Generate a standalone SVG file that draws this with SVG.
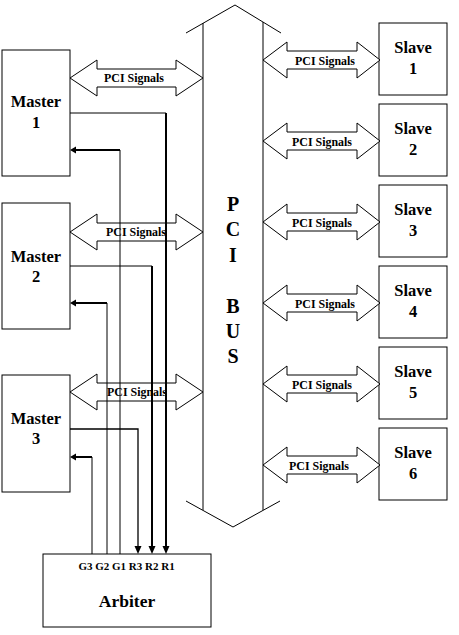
<svg xmlns="http://www.w3.org/2000/svg" width="459" height="635" viewBox="0 0 459 635">
<style>
.box{fill:#fff;stroke:#000;stroke-width:1}
.bus{fill:none;stroke:#000;stroke-width:1}
.dbl{fill:#fff;stroke:#000;stroke-width:1}
.lbl{font-weight:bold;fill:#000;text-anchor:middle}
.big{font-size:16.5px}
.sig{font-size:12.5px}
.pin{font-size:11px}
.busl{font-size:20px}
.thin{fill:none;stroke:#000;stroke-width:1}
.thick{fill:none;stroke:#000;stroke-width:2}
</style>
<defs>
<marker id="ah" markerUnits="userSpaceOnUse" markerWidth="10" markerHeight="10" viewBox="0 -5 10 10" refX="0" refY="0" orient="auto">
<path d="M0,-3.5 L8,0 L0,3.5 z" fill="#000"/>
</marker>
<marker id="ahs" markerUnits="userSpaceOnUse" markerWidth="10" markerHeight="10" viewBox="0 -5 10 10" refX="0" refY="0" orient="auto">
<path d="M0,-3.5 L6,0 L0,3.5 z" fill="#000"/>
</marker>
</defs>
<rect width="459" height="635" fill="#fff"/>
<g font-family="'Liberation Serif', 'Times New Roman', serif">
<g id="pci-bus">
<polyline class="bus" points="186,33 235,5 281,33"/>
<line class="bus" x1="203" y1="23" x2="203" y2="510"/>
<line class="bus" x1="263" y1="22" x2="263" y2="510"/>
<polyline class="bus" points="186,501 233,527 280,501"/>
<text class="lbl busl" x="233" y="211">P</text>
<text class="lbl busl" x="233" y="236">C</text>
<text class="lbl busl" x="233" y="262">I</text>
<text class="lbl busl" x="233" y="313">B</text>
<text class="lbl busl" x="233" y="338">U</text>
<text class="lbl busl" x="233" y="363">S</text>
</g>

<g id="master1">
<rect class="box" x="2" y="50" width="68" height="126"/>
<text class="lbl big" x="36" y="107">Master</text>
<text class="lbl big" x="36" y="128">1</text>
</g>
<g id="master2">
<rect class="box" x="2" y="203" width="68" height="126"/>
<text class="lbl big" x="36" y="262">Master</text>
<text class="lbl big" x="36" y="282">2</text>
</g>
<g id="master3">
<rect class="box" x="2" y="375" width="68" height="117"/>
<text class="lbl big" x="36" y="424">Master</text>
<text class="lbl big" x="36" y="444">3</text>
</g>

<g id="slave1">
<rect class="box" x="379" y="23" width="68" height="72"/>
<text class="lbl big" x="413" y="53">Slave</text>
<text class="lbl big" x="413" y="74">1</text>
</g>
<g id="slave2">
<rect class="box" x="379" y="104" width="68" height="72"/>
<text class="lbl big" x="413" y="134">Slave</text>
<text class="lbl big" x="413" y="155">2</text>
</g>
<g id="slave3">
<rect class="box" x="379" y="185" width="68" height="72"/>
<text class="lbl big" x="413" y="215">Slave</text>
<text class="lbl big" x="413" y="236">3</text>
</g>
<g id="slave4">
<rect class="box" x="379" y="266" width="68" height="72"/>
<text class="lbl big" x="413" y="296">Slave</text>
<text class="lbl big" x="413" y="317">4</text>
</g>
<g id="slave5">
<rect class="box" x="379" y="347" width="68" height="72"/>
<text class="lbl big" x="413" y="377">Slave</text>
<text class="lbl big" x="413" y="398">5</text>
</g>
<g id="slave6">
<rect class="box" x="379" y="428" width="68" height="72"/>
<text class="lbl big" x="413" y="458">Slave</text>
<text class="lbl big" x="413" y="479">6</text>
</g>

<g id="arbiter">
<rect class="box" x="43" y="554" width="168" height="73"/>
<text class="lbl pin" x="126.5" y="570">G3 G2 G1 R3 R2 R1</text>
<text class="lbl" style="font-size:17.5px" x="127" y="607">Arbiter</text>
</g>

<g id="connectors">
<g id="pci-signals">
<polygon class="dbl" points="70,78 97,60 97,69 176,69 176,60 203,78 176,96 176,87 97,87 97,96"/>
<polygon class="dbl" points="70,232 97,214 97,223 176,223 176,214 203,232 176,250 176,241 97,241 97,250"/>
<polygon class="dbl" points="70,392 97,374 97,383 176,383 176,374 203,392 176,410 176,401 97,401 97,410"/>
<polygon class="dbl" points="263,60 287,42 287,51 357,51 357,42 380,60 357,78 357,69 287,69 287,78"/>
<polygon class="dbl" points="263,141 287,123 287,132 357,132 357,123 380,141 357,159 357,150 287,150 287,159"/>
<polygon class="dbl" points="263,222 287,204 287,213 357,213 357,204 380,222 357,240 357,231 287,231 287,240"/>
<polygon class="dbl" points="263,303 287,285 287,294 357,294 357,285 380,303 357,321 357,312 287,312 287,321"/>
<polygon class="dbl" points="263,384 287,366 287,375 357,375 357,366 380,384 357,402 357,393 287,393 287,402"/>
<polygon class="dbl" points="263,465 287,447 287,456 357,456 357,447 380,465 357,483 357,474 287,474 287,483"/>
<text class="lbl sig" x="134" y="82" textLength="60" lengthAdjust="spacingAndGlyphs">PCI Signals</text>
<text class="lbl sig" x="136" y="236" textLength="60" lengthAdjust="spacingAndGlyphs">PCI Signals</text>
<text class="lbl sig" x="137" y="396" textLength="60" lengthAdjust="spacingAndGlyphs">PCI Signals</text>
<text class="lbl sig" x="325" y="64.5" textLength="60" lengthAdjust="spacingAndGlyphs">PCI Signals</text>
<text class="lbl sig" x="322" y="145.5" textLength="60" lengthAdjust="spacingAndGlyphs">PCI Signals</text>
<text class="lbl sig" x="322" y="226.5" textLength="60" lengthAdjust="spacingAndGlyphs">PCI Signals</text>
<text class="lbl sig" x="325" y="307.5" textLength="60" lengthAdjust="spacingAndGlyphs">PCI Signals</text>
<text class="lbl sig" x="322" y="388.5" textLength="60" lengthAdjust="spacingAndGlyphs">PCI Signals</text>
<text class="lbl sig" x="319" y="469.5" textLength="60" lengthAdjust="spacingAndGlyphs">PCI Signals</text>
</g>
<g id="request-lines">
<polyline class="thin" points="70,113 166,113"/>
<polyline class="thick" points="166,113 166,546" marker-end="url(#ah)"/>
<polyline class="thin" points="70,266 152,266"/>
<polyline class="thick" points="152,266 152,546" marker-end="url(#ah)"/>
<polyline class="thin" points="70,429 138,429 138,546" marker-end="url(#ah)" style="stroke-width:1.3"/>
</g>
<g id="grant-lines">
<polyline class="thin" points="120,554 120,150"/>
<line class="thick" x1="120" y1="150" x2="76" y2="150" marker-end="url(#ahs)"/>
<polyline class="thin" points="107,554 107,303"/>
<line class="thick" x1="107" y1="303" x2="76" y2="303" marker-end="url(#ahs)"/>
<polyline class="thin" points="92,554 92,457"/>
<line class="thick" x1="92" y1="457" x2="76" y2="457" marker-end="url(#ahs)"/>
</g>
</g>
</g>
</svg>
